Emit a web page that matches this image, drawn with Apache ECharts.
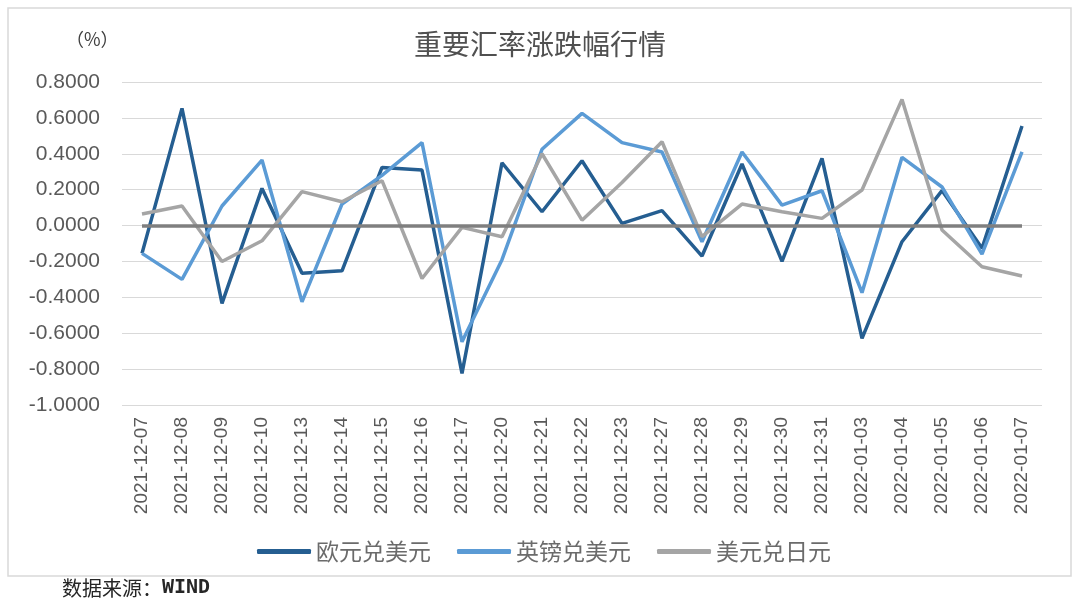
<!DOCTYPE html>
<html>
<head>
<meta charset="utf-8">
<script src="https://cdn.jsdelivr.net/npm/echarts@6/dist/echarts.min.js"></script>
<style>
  html, body { margin: 0; padding: 0; background: #fff; }
  #chart { width: 1080px; height: 608px; }
</style>
</head>
<body>
<div id="chart"></div>
<script>
// trading days
const dates = [
  '2021-12-07', '2021-12-08', '2021-12-09', '2021-12-10', '2021-12-13', '2021-12-14',
  '2021-12-15', '2021-12-16', '2021-12-17', '2021-12-20', '2021-12-21', '2021-12-22',
  '2021-12-23', '2021-12-27', '2021-12-28', '2021-12-29', '2021-12-30', '2021-12-31',
  '2022-01-03', '2022-01-04', '2022-01-05', '2022-01-06', '2022-01-07'
]

// daily change, %
const eurUsd = [
  -0.155, 0.653, -0.434, 0.207, -0.266, -0.252, 0.324, 0.309, -0.824, 0.35, 0.077, 0.361,
  0.012, 0.083, -0.17, 0.343, -0.2, 0.374, -0.629, -0.09, 0.195, -0.127, 0.555
]
const gbpUsd = [
  -0.155, -0.3, 0.109, 0.365, -0.425, 0.12, 0.28, 0.462, -0.648, -0.19, 0.425, 0.625,
  0.462, 0.41, -0.09, 0.41, 0.114, 0.194, -0.374, 0.38, 0.215, -0.159, 0.41
]
const usdJpy = [
  0.064, 0.109, -0.2, -0.085, 0.189, 0.133, 0.25, -0.295, -0.01, -0.062, 0.4, 0.03,
  0.24, 0.467, -0.062, 0.12, 0.077, 0.04, 0.198, 0.703, -0.025, -0.23, -0.281
]

const names = ['欧元兑美元', '英镑兑美元', '美元兑日元']
const colors = ['#255E91', '#5B9BD5', '#A5A5A5']

const cjk = '"Noto Sans CJK SC", sans-serif'
const num = '"Liberation Sans", Arial, sans-serif'

const chart = echarts.init(document.getElementById('chart'))

const lineSeries = (name, data, color) => ({
  name,
  type: 'line',
  data,
  symbol: 'none',
  lineStyle: { color, width: 3.5 },
  itemStyle: { color },
  z: 2,
})

const option = {
  animation: false,
  backgroundColor: '#fff',
  title: {
    text: '重要汇率涨跌幅行情',
    left: 'center',
    top: 25,
    textStyle: { fontFamily: cjk, fontSize: 28, fontWeight: 'normal', color: '#505050' },
  },
  graphic: [
    {
      type: 'rect',
      shape: { x: 8, y: 8, width: 1063, height: 568 },
      style: { fill: 'none', stroke: '#d9d9d9', lineWidth: 1.5 },
      silent: true,
    },
    {
      type: 'text',
      left: 66,
      top: 30,
      style: { text: '（%）', font: '18px ' + cjk, fill: '#404040' },
    },
    {
      type: 'text',
      left: 62,
      top: 578,
      style: {
        text: '{a|数据来源：}{b|WIND}',
        rich: {
          a: { fontFamily: cjk, fontSize: 20, fill: '#262626' },
          b: { fontFamily: '"DejaVu Sans Mono", monospace', fontSize: 20, fontWeight: 'bold', fill: '#262626' },
        },
      },
    },
  ],
  legend: {
    data: names,
    left: 252,
    top: 535,
    icon: 'roundRect',
    itemWidth: 54,
    itemHeight: 5,
    itemGap: 26,
    textStyle: { fontFamily: cjk, fontSize: 23, color: '#6b6b6b' },
  },
  grid: { left: 122, right: 38, top: 82, bottom: 203 },
  xAxis: {
    type: 'category',
    data: dates,
    boundaryGap: true,
    axisLine: { show: false, onZero: false },
    axisTick: { show: false },
    axisLabel: {
      interval: 0,
      rotate: 90,
      margin: 12,
      fontFamily: num,
      fontSize: 19,
      color: '#595959',
    },
  },
  yAxis: {
    type: 'value',
    min: -1,
    max: 0.8,
    interval: 0.2,
    axisLine: { show: false },
    axisTick: { show: false },
    axisLabel: {
      margin: 22,
      fontFamily: num,
      fontSize: 21,
      color: '#595959',
      formatter: (v) => v.toFixed(4),
    },
    splitLine: { lineStyle: { color: '#d9d9d9', width: 1 } },
  },
  series: [
    lineSeries(names[0], eurUsd, colors[0]),
    lineSeries(names[1], gbpUsd, colors[1]),
    {
      ...lineSeries(names[2], usdJpy, colors[2]),
      // zero baseline between the first and last day
      markLine: {
        silent: true,
        symbol: 'none',
        label: { show: false },
        lineStyle: { color: '#7F7F7F', width: 3.5, type: 'solid' },
        z: 5,
        data: [[
          { xAxis: dates[0], yAxis: 0 },
          { xAxis: dates[dates.length - 1], yAxis: 0 },
        ]],
      },
    },
  ],
}

chart.setOption(option)
</script>
</body>
</html>
